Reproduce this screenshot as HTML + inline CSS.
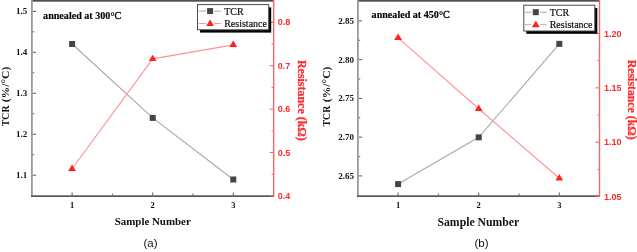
<!DOCTYPE html>
<html><head><meta charset="utf-8"><title>TCR and Resistance vs Sample Number</title>
<style>
html,body{margin:0;padding:0;background:#fff;}
body{width:637px;height:252px;overflow:hidden;}
svg{display:block;}
</style></head>
<body>
<svg width="637" height="252" viewBox="0 0 637 252">
<rect width="637" height="252" fill="#fff"/>
<rect x="31.8" y="0" width="241.8" height="1.7" fill="#505050"/>
<rect x="31.0" y="0" width="1.8" height="196.9" fill="#9a9a9a"/>
<rect x="31.0" y="195.3" width="242.6" height="1.7" fill="#555"/>
<rect x="273.05" y="0" width="1.35" height="197.0" fill="#ff6060"/>
<rect x="32.8" y="174.7" width="3.3" height="1" fill="#5a5a5a"/>
<text x="27.2" y="178.2" text-anchor="end" font-family='"Liberation Serif", serif' font-weight="bold" font-size="9" fill="#111">1.1</text>
<rect x="32.8" y="133.74" width="3.3" height="1" fill="#5a5a5a"/>
<text x="27.2" y="137.24" text-anchor="end" font-family='"Liberation Serif", serif' font-weight="bold" font-size="9" fill="#111">1.2</text>
<rect x="32.8" y="92.77" width="3.3" height="1" fill="#5a5a5a"/>
<text x="27.2" y="96.27" text-anchor="end" font-family='"Liberation Serif", serif' font-weight="bold" font-size="9" fill="#111">1.3</text>
<rect x="32.8" y="51.81" width="3.3" height="1" fill="#5a5a5a"/>
<text x="27.2" y="55.31" text-anchor="end" font-family='"Liberation Serif", serif' font-weight="bold" font-size="9" fill="#111">1.4</text>
<rect x="32.8" y="10.85" width="3.3" height="1" fill="#5a5a5a"/>
<text x="27.2" y="14.35" text-anchor="end" font-family='"Liberation Serif", serif' font-weight="bold" font-size="9" fill="#111">1.5</text>
<rect x="32.8" y="154.22" width="1.4" height="1" fill="#5a5a5a"/>
<rect x="32.8" y="113.26" width="1.4" height="1" fill="#5a5a5a"/>
<rect x="32.8" y="72.29" width="1.4" height="1" fill="#5a5a5a"/>
<rect x="32.8" y="31.33" width="1.4" height="1" fill="#5a5a5a"/>
<rect x="269.7" y="195.5" width="3.4" height="1" fill="#ff5a5a"/>
<text x="277.8" y="199.1" font-family='"Liberation Sans", sans-serif' font-weight="bold" font-size="9.8" textLength="12.53" lengthAdjust="spacingAndGlyphs" fill="#ff2a2a">0.4</text>
<rect x="269.7" y="152.08" width="3.4" height="1" fill="#ff5a5a"/>
<text x="277.8" y="155.68" font-family='"Liberation Sans", sans-serif' font-weight="bold" font-size="9.8" textLength="12.53" lengthAdjust="spacingAndGlyphs" fill="#ff2a2a">0.5</text>
<rect x="269.7" y="108.65" width="3.4" height="1" fill="#ff5a5a"/>
<text x="277.8" y="112.25" font-family='"Liberation Sans", sans-serif' font-weight="bold" font-size="9.8" textLength="12.53" lengthAdjust="spacingAndGlyphs" fill="#ff2a2a">0.6</text>
<rect x="269.7" y="65.23" width="3.4" height="1" fill="#ff5a5a"/>
<text x="277.8" y="68.83" font-family='"Liberation Sans", sans-serif' font-weight="bold" font-size="9.8" textLength="12.53" lengthAdjust="spacingAndGlyphs" fill="#ff2a2a">0.7</text>
<rect x="269.7" y="21.8" width="3.4" height="1" fill="#ff5a5a"/>
<text x="277.8" y="25.4" font-family='"Liberation Sans", sans-serif' font-weight="bold" font-size="9.8" textLength="12.53" lengthAdjust="spacingAndGlyphs" fill="#ff2a2a">0.8</text>
<rect x="271.6" y="173.79" width="1.4" height="1" fill="#ff5a5a"/>
<rect x="271.6" y="130.36" width="1.4" height="1" fill="#ff5a5a"/>
<rect x="271.6" y="86.94" width="1.4" height="1" fill="#ff5a5a"/>
<rect x="271.6" y="43.51" width="1.4" height="1" fill="#ff5a5a"/>
<rect x="71.6" y="192.4" width="1" height="2.8" fill="#5a5a5a"/>
<text x="72.1" y="208.0" text-anchor="middle" font-family='"Liberation Serif", serif' font-weight="bold" font-size="8.5" fill="#111">1</text>
<rect x="152.2" y="192.4" width="1" height="2.8" fill="#5a5a5a"/>
<text x="152.7" y="208.0" text-anchor="middle" font-family='"Liberation Serif", serif' font-weight="bold" font-size="8.5" fill="#111">2</text>
<rect x="232.8" y="192.4" width="1" height="2.8" fill="#5a5a5a"/>
<text x="233.3" y="208.0" text-anchor="middle" font-family='"Liberation Serif", serif' font-weight="bold" font-size="8.5" fill="#111">3</text>
<rect x="111.9" y="193.6" width="1" height="1.6" fill="#5a5a5a"/>
<rect x="192.5" y="193.6" width="1" height="1.6" fill="#5a5a5a"/>
<polyline points="72.1,44.0 152.7,117.9 233.3,179.5" fill="none" stroke="#a8a8a8" stroke-width="1.1"/>
<polyline points="72.1,168.75 152.7,58.9 233.3,44.85" fill="none" stroke="#ff9494" stroke-width="1.15"/>
<rect x="69.1" y="41.0" width="6" height="6" fill="#454545"/>
<rect x="149.7" y="114.9" width="6" height="6" fill="#454545"/>
<rect x="230.3" y="176.5" width="6" height="6" fill="#454545"/>
<polygon points="72.10,164.50 76.00,170.90 68.20,170.90" fill="#ff2020"/>
<polygon points="152.70,54.65 156.60,61.05 148.80,61.05" fill="#ff2020"/>
<polygon points="233.30,40.60 237.20,47.00 229.40,47.00" fill="#ff2020"/>
<rect x="200.0" y="7.4" width="71.2" height="25.2" fill="#000"/>
<rect x="197.5" y="4.6" width="71.2" height="25.2" fill="#fff" stroke="#4a4a4a" stroke-width="1"/>
<line x1="198.7" y1="11.1" x2="205.8" y2="11.1" stroke="#a8a8a8" stroke-width="1"/>
<line x1="214.4" y1="11.1" x2="220.8" y2="11.1" stroke="#a8a8a8" stroke-width="1"/>
<rect x="207.1" y="8.1" width="6" height="6" fill="#454545"/>
<line x1="198.7" y1="23.5" x2="205.8" y2="23.5" stroke="#ff9494" stroke-width="1"/>
<line x1="214.4" y1="23.5" x2="220.8" y2="23.5" stroke="#ff9494" stroke-width="1"/>
<polygon points="210.1,19.6 214.05,26.0 206.15,26.0" fill="#ff2020"/>
<text x="224.2" y="14.5" font-family='"Liberation Serif", serif' font-size="10" fill="#111" stroke="#111" stroke-width="0.2">TCR</text>
<text x="224.2" y="26.5" font-family='"Liberation Serif", serif' font-size="10" fill="#111" stroke="#111" stroke-width="0.2">Resistance</text>
<text x="43.1" y="19.1" font-family='"Liberation Serif", serif' font-weight="bold" font-size="10.1" fill="#000" stroke="#000" stroke-width="0.15">annealed at 300<tspan dy="0.7">°</tspan><tspan dy="-0.7" font-weight="normal" stroke-width="0.35">C</tspan></text>
<text transform="translate(8.9,126.3) rotate(-90)" font-family='"Liberation Serif", serif' font-weight="bold" font-size="10.2" textLength="20.8" lengthAdjust="spacingAndGlyphs" fill="#111">TCR</text>
<text transform="translate(8.9,102.3) rotate(-90)" font-family='"Liberation Serif", serif' font-weight="bold" font-size="11" textLength="35.6" lengthAdjust="spacingAndGlyphs" fill="#111">(%/°C)</text>
<text transform="translate(298.2,60.0) rotate(90)" font-family='"Liberation Serif", serif' font-weight="bold" font-size="11.5" textLength="80.8" lengthAdjust="spacingAndGlyphs" fill="#ff2a2a" stroke="#ff2a2a" stroke-width="0.25">Resistance (kΩ)</text>
<text x="114.7" y="225.3" font-family='"Liberation Serif", serif' font-weight="bold" font-size="10.9" textLength="76.1" lengthAdjust="spacingAndGlyphs" fill="#111">Sample Number</text>
<text x="143.5" y="246.5" font-family='"Liberation Sans", sans-serif' font-size="11.5" fill="#111">(a)</text>
<rect x="357.8" y="0" width="241.6" height="1.7" fill="#505050"/>
<rect x="357.0" y="0" width="1.8" height="196.9" fill="#9a9a9a"/>
<rect x="357.0" y="195.3" width="242.4" height="1.7" fill="#555"/>
<rect x="598.85" y="0" width="1.35" height="197.0" fill="#ff6060"/>
<rect x="358.8" y="175.4" width="3.3" height="1" fill="#5a5a5a"/>
<text x="354.0" y="178.9" text-anchor="end" font-family='"Liberation Serif", serif' font-weight="bold" font-size="9" fill="#111">2.65</text>
<rect x="358.8" y="136.65" width="3.3" height="1" fill="#5a5a5a"/>
<text x="354.0" y="140.15" text-anchor="end" font-family='"Liberation Serif", serif' font-weight="bold" font-size="9" fill="#111">2.70</text>
<rect x="358.8" y="97.9" width="3.3" height="1" fill="#5a5a5a"/>
<text x="354.0" y="101.4" text-anchor="end" font-family='"Liberation Serif", serif' font-weight="bold" font-size="9" fill="#111">2.75</text>
<rect x="358.8" y="59.15" width="3.3" height="1" fill="#5a5a5a"/>
<text x="354.0" y="62.65" text-anchor="end" font-family='"Liberation Serif", serif' font-weight="bold" font-size="9" fill="#111">2.80</text>
<rect x="358.8" y="20.4" width="3.3" height="1" fill="#5a5a5a"/>
<text x="354.0" y="23.9" text-anchor="end" font-family='"Liberation Serif", serif' font-weight="bold" font-size="9" fill="#111">2.85</text>
<rect x="358.8" y="156.03" width="1.4" height="1" fill="#5a5a5a"/>
<rect x="358.8" y="117.27" width="1.4" height="1" fill="#5a5a5a"/>
<rect x="358.8" y="78.53" width="1.4" height="1" fill="#5a5a5a"/>
<rect x="358.8" y="39.77" width="1.4" height="1" fill="#5a5a5a"/>
<rect x="595.5" y="196.05" width="3.4" height="1" fill="#ff5a5a"/>
<text x="604.0" y="199.65" font-family='"Liberation Sans", sans-serif' font-weight="bold" font-size="9.8" textLength="17.55" lengthAdjust="spacingAndGlyphs" fill="#ff2a2a">1.05</text>
<rect x="595.5" y="141.7" width="3.4" height="1" fill="#ff5a5a"/>
<text x="604.0" y="145.3" font-family='"Liberation Sans", sans-serif' font-weight="bold" font-size="9.8" textLength="17.55" lengthAdjust="spacingAndGlyphs" fill="#ff2a2a">1.10</text>
<rect x="595.5" y="87.35" width="3.4" height="1" fill="#ff5a5a"/>
<text x="604.0" y="90.95" font-family='"Liberation Sans", sans-serif' font-weight="bold" font-size="9.8" textLength="17.55" lengthAdjust="spacingAndGlyphs" fill="#ff2a2a">1.15</text>
<rect x="595.5" y="33.0" width="3.4" height="1" fill="#ff5a5a"/>
<text x="604.0" y="36.6" font-family='"Liberation Sans", sans-serif' font-weight="bold" font-size="9.8" textLength="17.55" lengthAdjust="spacingAndGlyphs" fill="#ff2a2a">1.20</text>
<rect x="597.4" y="168.88" width="1.4" height="1" fill="#ff5a5a"/>
<rect x="597.4" y="114.53" width="1.4" height="1" fill="#ff5a5a"/>
<rect x="597.4" y="60.17" width="1.4" height="1" fill="#ff5a5a"/>
<rect x="397.6" y="192.4" width="1" height="2.8" fill="#5a5a5a"/>
<text x="398.1" y="208.0" text-anchor="middle" font-family='"Liberation Serif", serif' font-weight="bold" font-size="8.5" fill="#111">1</text>
<rect x="478.2" y="192.4" width="1" height="2.8" fill="#5a5a5a"/>
<text x="478.7" y="208.0" text-anchor="middle" font-family='"Liberation Serif", serif' font-weight="bold" font-size="8.5" fill="#111">2</text>
<rect x="558.8" y="192.4" width="1" height="2.8" fill="#5a5a5a"/>
<text x="559.3" y="208.0" text-anchor="middle" font-family='"Liberation Serif", serif' font-weight="bold" font-size="8.5" fill="#111">3</text>
<rect x="437.9" y="193.6" width="1" height="1.6" fill="#5a5a5a"/>
<rect x="518.5" y="193.6" width="1" height="1.6" fill="#5a5a5a"/>
<polyline points="398.1,184.1 478.7,137.35 559.3,43.85" fill="none" stroke="#a8a8a8" stroke-width="1.1"/>
<polyline points="398.1,37.85 478.7,108.75 559.3,178.3" fill="none" stroke="#ff9494" stroke-width="1.15"/>
<rect x="395.1" y="181.1" width="6" height="6" fill="#454545"/>
<rect x="475.7" y="134.35" width="6" height="6" fill="#454545"/>
<rect x="556.3" y="40.85" width="6" height="6" fill="#454545"/>
<polygon points="398.10,33.60 402.00,40.00 394.20,40.00" fill="#ff2020"/>
<polygon points="478.70,104.50 482.60,110.90 474.80,110.90" fill="#ff2020"/>
<polygon points="559.30,174.05 563.20,180.45 555.40,180.45" fill="#ff2020"/>
<rect x="526.3" y="8.0" width="71.0" height="25.8" fill="#000"/>
<rect x="523.8" y="5.2" width="71.0" height="25.8" fill="#fff" stroke="#4a4a4a" stroke-width="1"/>
<line x1="525.0" y1="12.2" x2="531.5" y2="12.2" stroke="#a8a8a8" stroke-width="1"/>
<line x1="540.1" y1="12.2" x2="547.1" y2="12.2" stroke="#a8a8a8" stroke-width="1"/>
<rect x="532.8" y="9.2" width="6" height="6" fill="#454545"/>
<line x1="525.0" y1="24.7" x2="531.5" y2="24.7" stroke="#ff9494" stroke-width="1"/>
<line x1="540.1" y1="24.7" x2="547.1" y2="24.7" stroke="#ff9494" stroke-width="1"/>
<polygon points="535.8,20.8 539.75,27.2 531.85,27.2" fill="#ff2020"/>
<text x="549.7" y="15.6" font-family='"Liberation Serif", serif' font-size="10" fill="#111" stroke="#111" stroke-width="0.2">TCR</text>
<text x="549.7" y="27.7" font-family='"Liberation Serif", serif' font-size="10" fill="#111" stroke="#111" stroke-width="0.2">Resistance</text>
<text x="371.6" y="18.2" font-family='"Liberation Serif", serif' font-weight="bold" font-size="10.1" fill="#000" stroke="#000" stroke-width="0.15">annealed at 450<tspan dy="0.7">°</tspan><tspan dy="-0.7" font-weight="normal" stroke-width="0.35">C</tspan></text>
<text transform="translate(330.4,126.5) rotate(-90)" font-family='"Liberation Serif", serif' font-weight="bold" font-size="10.2" textLength="20.8" lengthAdjust="spacingAndGlyphs" fill="#111">TCR</text>
<text transform="translate(330.4,102.2) rotate(-90)" font-family='"Liberation Serif", serif' font-weight="bold" font-size="11" textLength="35.6" lengthAdjust="spacingAndGlyphs" fill="#111">(%/°C)</text>
<text transform="translate(628.2,59.8) rotate(90)" font-family='"Liberation Serif", serif' font-weight="bold" font-size="11.5" textLength="79.8" lengthAdjust="spacingAndGlyphs" fill="#ff2a2a" stroke="#ff2a2a" stroke-width="0.25">Resistance (kΩ)</text>
<text x="437.5" y="226.2" font-family='"Liberation Serif", serif' font-weight="bold" font-size="11.7" textLength="81.7" lengthAdjust="spacingAndGlyphs" fill="#111">Sample Number</text>
<text x="474.5" y="246.5" font-family='"Liberation Sans", sans-serif' font-size="11.5" fill="#111">(b)</text>
</svg>
</body></html>
